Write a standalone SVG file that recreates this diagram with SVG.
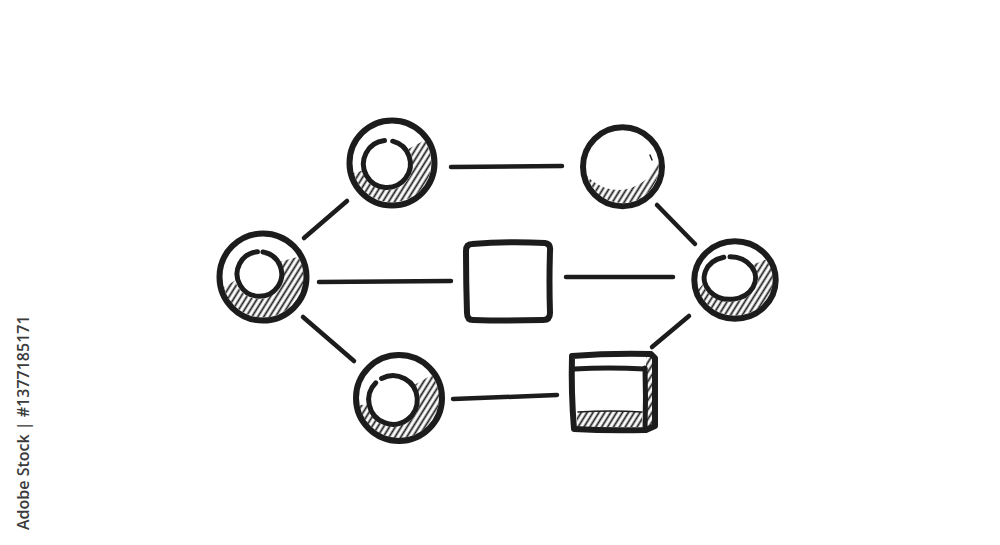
<svg xmlns="http://www.w3.org/2000/svg" width="1000" height="545" viewBox="0 0 1000 545">
<style>
.ink{fill:none;stroke:#1c1c1c;stroke-linecap:round;stroke-linejoin:round}
.thick{stroke-width:6}
.mid{stroke-width:5}
.edge{fill:none;stroke:#1c1c1c;stroke-width:4.5;stroke-linecap:round}
.hatch{fill:url(#hatch);stroke:none}
.wm{font-family:"Open Sans","Liberation Sans",sans-serif;font-size:16px;font-weight:600;fill:#3a3a3a}
</style>
<defs>
<pattern id="hatch" width="5" height="5" patternUnits="userSpaceOnUse" patternTransform="rotate(32)">
<line x1="1.5" y1="0" x2="1.5" y2="5" stroke="#1c1c1c" stroke-width="1.8"/>
</pattern>
</defs>
<rect width="1000" height="545" fill="#ffffff"/>

<g id="connectors">
<line class="edge" x1="451" y1="167" x2="562" y2="166"/>
<line class="edge" x1="347" y1="201" x2="304" y2="238"/>
<line class="edge" x1="319" y1="282" x2="451" y2="281"/>
<line class="edge" x1="566" y1="277" x2="673" y2="277"/>
<line class="edge" x1="657" y1="205" x2="695" y2="244"/>
<line class="edge" x1="303" y1="317" x2="354" y2="361"/>
<line class="edge" x1="453" y1="399" x2="557" y2="395"/>
<line class="edge" x1="689" y1="316" x2="652" y2="347"/>
</g>

<g id="node-top-left">
<path class="hatch" d="M353.8,173.2 A39.5,39.5 0 1 0 424.4,140.3 L408.3,149.1 A26,26 0 1 1 361.9,170.7 Z"/>
<circle class="ink thick" cx="392" cy="163" r="42.5"/>
<path class="ink mid" d="M392.7,141.2 A23.5,23.5 0 1 1 384.5,140.6"/>
</g>

<g id="node-left">
<path class="hatch" d="M223.9,287.5 A40.5,40.5 0 1 0 298.1,256.8 L280.7,261.5 A25,25 0 1 1 234.9,280.5 Z"/>
<circle class="ink thick" cx="263" cy="277" r="43.5"/>
<path class="ink mid" d="M262.9,252 A22.3,22.3 0 1 1 257.5,251.8"/>
</g>

<g id="node-bottom-left">
<path class="hatch" d="M359.6,404.9 A40,40 0 1 0 431.8,375.1 L415,384.6 A26.8,26.8 0 1 1 366.6,404.7 Z"/>
<circle class="ink thick" cx="399" cy="398" r="43"/>
<path class="ink mid" d="M381.6,378.5 A24.3,24.3 0 1 1 375.8,382.8"/>
</g>

<g id="node-top-right">
<path class="hatch" d="M587.2,176.1 A36.5,36.5 0 0 0 658.4,160.4 A42,42 0 0 1 587.2,176.1 Z"/>
<circle class="ink thick" cx="622.5" cy="166.7" r="39.5"/>
<path class="ink" stroke-width="1.5" d="M650,155 L652,160"/>
</g>

<g id="node-right">
<path class="hatch" d="M698.6,289.2 A37.7,35.7 0 1 0 765.9,259.5 L753.1,264.4 A28.2,23.8 0 1 1 702.8,284.2 Z"/>
<ellipse class="ink thick" cx="735" cy="280" rx="40.7" ry="38.7"/>
<path class="ink mid" d="M730,256.7 A25.7,21.3 0 1 1 723.8,257.3"/>
</g>

<g id="node-center">
<path class="ink thick" d="M472,244 Q508,241 545,243 Q551,244 550,251 Q549,282 550,313 Q550,320 543,320 Q507,321 473,320 Q467,320 467,313 Q466,282 466,251 Q466,244 472,244 Z"/>
</g>

<g id="node-bottom-right">
<path class="hatch" d="M577,412 Q610,410 642,412 L642,427 L577,427 Z"/>
<path class="hatch" d="M646,356 L655,357 L655,426 L646,429 Z"/>
<path class="ink thick" d="M572,356 Q610,353 651,354 L655,358 L655,426 L646,430 Q608,431 574,429 Q571,392 572,356 Z"/>
<path class="ink mid" d="M574,369 Q608,367 645,369"/>
<path class="ink mid" d="M645,368 Q646,398 645,430"/>
<path class="ink" stroke-width="1.5" d="M578,412 Q610,410 642,412"/>
</g>

<text class="wm" x="29" y="530" transform="rotate(-90 29 530)">Adobe Stock | #1377185171</text>
</svg>
